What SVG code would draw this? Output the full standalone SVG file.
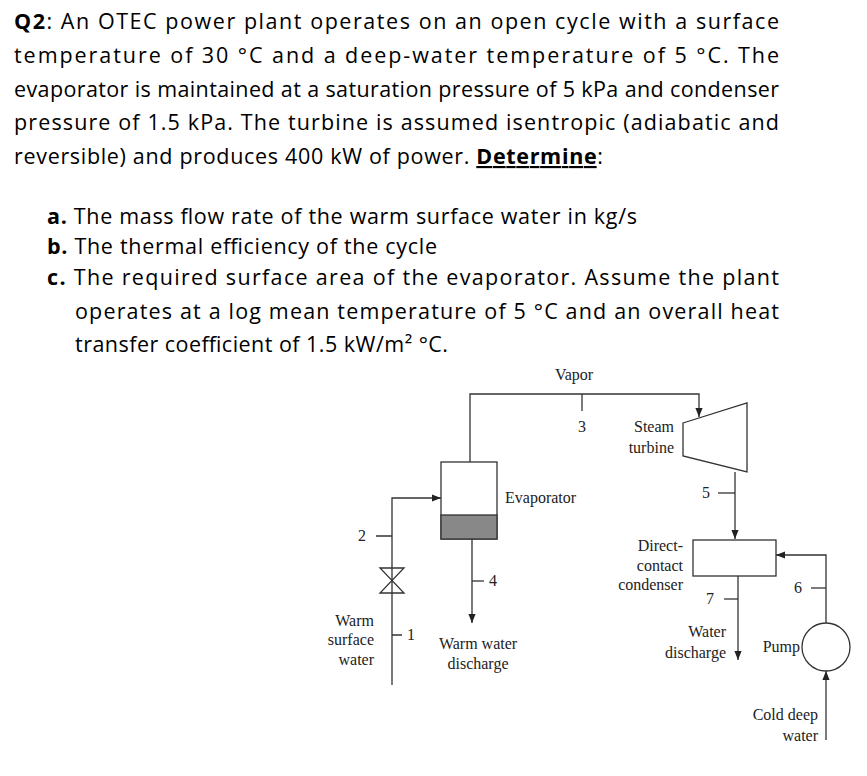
<svg xmlns="http://www.w3.org/2000/svg" width="867" height="776" viewBox="0 0 867 776">
<style>
.q{font-family:"Open Sans","Liberation Sans",sans-serif;font-size:21.5px;fill:#000}
.d{font-family:"Liberation Serif",serif;font-size:16px;fill:#222}
.l{stroke:#333;stroke-width:1.3;fill:none}
</style>
<defs><marker id="a" viewBox="0 0 10 10" refX="10" refY="5" markerWidth="7" markerHeight="7" orient="auto"><path d="M0,1 L10,5 L0,9 z" fill="#222"/></marker></defs>
<rect width="867" height="776" fill="#fff"/>
<g id="question">
<text class="q" x="14" y="29" textLength="765" lengthAdjust="spacing"><tspan font-weight="bold">Q2</tspan>: An OTEC power plant operates on an open cycle with a surface</text>
<text class="q" x="14" y="63" textLength="765" lengthAdjust="spacing">temperature of 30 °C and a deep-water temperature of 5 °C. The</text>
<text class="q" x="14" y="97" textLength="765" lengthAdjust="spacing">evaporator is maintained at a saturation pressure of 5 kPa and condenser</text>
<text class="q" x="14" y="130" textLength="765" lengthAdjust="spacing">pressure of 1.5 kPa. The turbine is assumed isentropic (adiabatic and</text>
<text class="q" x="14" y="164" textLength="589" lengthAdjust="spacing">reversible) and produces 400 kW of power. <tspan font-weight="bold" text-decoration="underline">Determine</tspan>:</text>
<text class="q" x="47" y="224" textLength="590" lengthAdjust="spacing"><tspan font-weight="bold">a.</tspan> The mass flow rate of the warm surface water in kg/s</text>
<text class="q" x="47" y="254" textLength="390" lengthAdjust="spacing"><tspan font-weight="bold">b.</tspan> The thermal efficiency of the cycle</text>
<text class="q" x="47" y="285" textLength="732" lengthAdjust="spacing"><tspan font-weight="bold">c.</tspan> The required surface area of the evaporator. Assume the plant</text>
<text class="q" x="75" y="319" textLength="704" lengthAdjust="spacing">operates at a log mean temperature of 5 °C and an overall heat</text>
<text class="q" x="75" y="352" textLength="373" lengthAdjust="spacing">transfer coefficient of 1.5 kW/m² °C.</text>
</g>
<g id="connectors">
<path class="l" d="M470,462 V394 H699 V417" marker-end="url(#a)"/>
<path class="l" d="M582,394 V411"/>
<path class="l" d="M392,685 V498 H441" marker-end="url(#a)"/>
<path class="l" d="M376,536 H392 M392,635 H402"/>
<path class="l" d="M472,539 V623" marker-end="url(#a)"/>
<path class="l" d="M472,581 H484"/>
<path class="l" d="M735,472 V539" marker-end="url(#a)"/>
<path class="l" d="M718,493 H735"/>
<path class="l" d="M738,576 V660" marker-end="url(#a)"/>
<path class="l" d="M724,599 H738"/>
<path class="l" d="M826,623 V555 H776" marker-end="url(#a)"/>
<path class="l" d="M811,588 H826"/>
<path class="l" d="M826,740 V671" marker-end="url(#a)"/>
</g>
<g id="valve"><path class="l" d="M380,568 H404 L380,593 H404 Z"/></g>
<g id="evaporator">
<rect x="441" y="462" width="56" height="77" fill="#fff" stroke="#333" stroke-width="1.3"/>
<rect x="441" y="515" width="56" height="24" fill="#888" stroke="#333" stroke-width="1.3"/>
<text class="d" x="505" y="503">Evaporator</text>
</g>
<g id="turbine">
<polygon class="l" points="683,423 747,403 747,472 683,456"/>
<text class="d" x="674" y="432" text-anchor="end">Steam</text>
<text class="d" x="674" y="453" text-anchor="end">turbine</text>
</g>
<g id="condenser">
<rect class="l" x="693" y="540" width="83" height="36"/>
<text class="d" x="683" y="551" text-anchor="end">Direct-</text>
<text class="d" x="683" y="571" text-anchor="end">contact</text>
<text class="d" x="683" y="590" text-anchor="end">condenser</text>
</g>
<g id="pump">
<circle class="l" cx="826" cy="647" r="24"/>
<text class="d" x="800" y="652" text-anchor="end">Pump</text>
</g>
<g id="labels">
<text class="d" x="574" y="380" text-anchor="middle">Vapor</text>
<text class="d" x="582" y="432" text-anchor="middle">3</text>
<text class="d" x="362" y="541" text-anchor="middle">2</text>
<text class="d" x="493" y="586" text-anchor="middle">4</text>
<text class="d" x="411" y="640" text-anchor="middle">1</text>
<text class="d" x="706" y="498" text-anchor="middle">5</text>
<text class="d" x="710" y="604" text-anchor="middle">7</text>
<text class="d" x="798" y="593" text-anchor="middle">6</text>
<text class="d" x="374" y="626" text-anchor="end">Warm</text>
<text class="d" x="374" y="645" text-anchor="end">surface</text>
<text class="d" x="374" y="665" text-anchor="end">water</text>
<text class="d" x="478" y="649" text-anchor="middle">Warm water</text>
<text class="d" x="478" y="669" text-anchor="middle">discharge</text>
<text class="d" x="726" y="637" text-anchor="end">Water</text>
<text class="d" x="726" y="658" text-anchor="end">discharge</text>
<text class="d" x="818" y="720" text-anchor="end">Cold deep</text>
<text class="d" x="818" y="741" text-anchor="end">water</text>
</g>
</svg>
